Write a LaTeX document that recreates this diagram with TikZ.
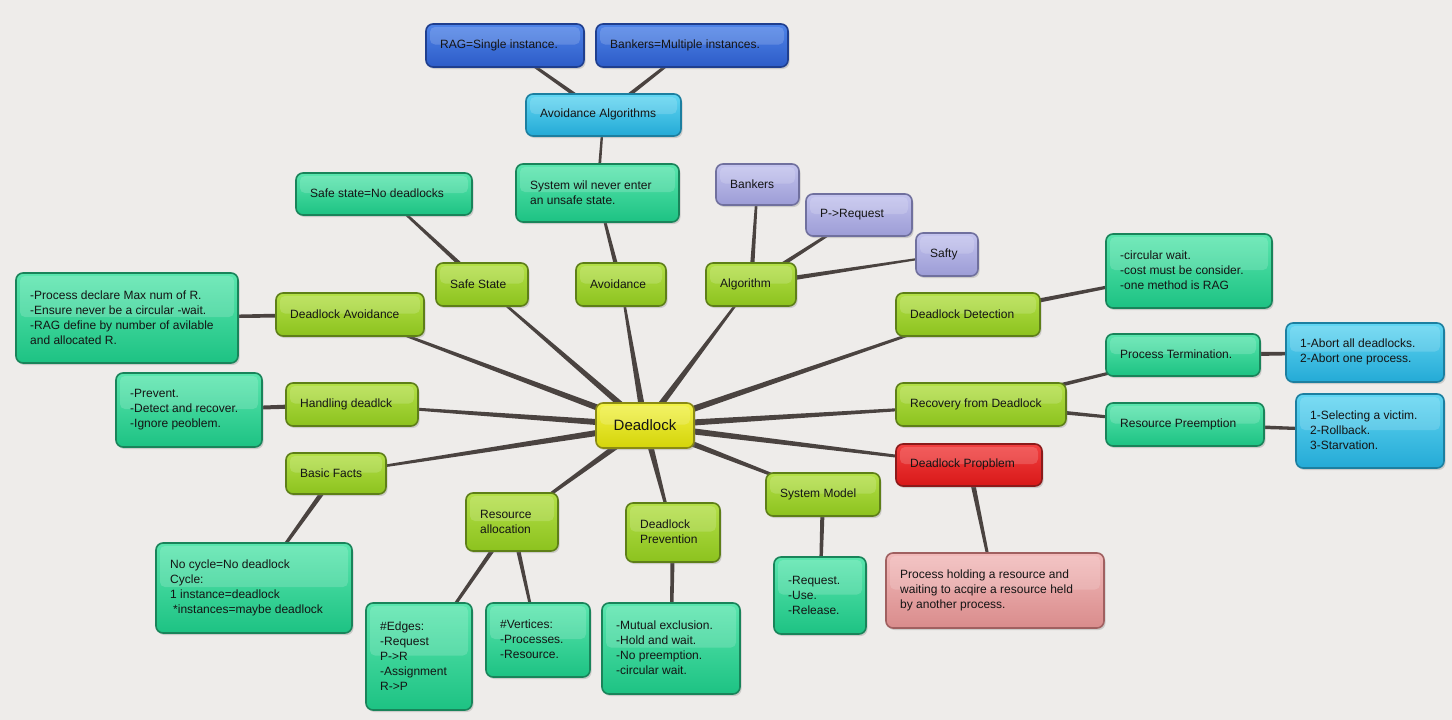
\documentclass[tikz,border=0pt]{standalone}
\usepackage{fontspec}
\setmainfont{Liberation Sans}
\usetikzlibrary{calc,shadows,backgrounds}
\definecolor{bgc}{HTML}{EEECEA}
\definecolor{connc}{HTML}{4A4340}
\definecolor{txtc}{HTML}{141414}
\definecolor{limT}{HTML}{B4E048}\definecolor{limB}{HTML}{8CC21E}\definecolor{limD}{HTML}{5E7F18}
\definecolor{teaT}{HTML}{5AE6AE}\definecolor{teaB}{HTML}{1DC283}\definecolor{teaD}{HTML}{19845A}
\definecolor{bluT}{HTML}{4F84E8}\definecolor{bluB}{HTML}{2D5CC8}\definecolor{bluD}{HTML}{1F3F8F}
\definecolor{cyaT}{HTML}{62D6F2}\definecolor{cyaB}{HTML}{24AAD6}\definecolor{cyaD}{HTML}{1C7FA0}
\definecolor{purT}{HTML}{C4C4EE}\definecolor{purB}{HTML}{9C9CD6}\definecolor{purD}{HTML}{70709E}
\definecolor{redT}{HTML}{F24040}\definecolor{redB}{HTML}{D81818}\definecolor{redD}{HTML}{8C1A1A}
\definecolor{pnkT}{HTML}{F2BABA}\definecolor{pnkB}{HTML}{D98C8C}\definecolor{pnkD}{HTML}{A06060}
\definecolor{yelT}{HTML}{F2F246}\definecolor{yelB}{HTML}{D4D40A}\definecolor{yelD}{HTML}{8A8A14}
\tikzset{
  bxs/.style={draw, rounded corners=7pt, line width=1.6pt, inner sep=0pt, outer sep=0pt,
    drop shadow={opacity=0.3, shadow xshift=1.5pt, shadow yshift=-2pt},
    path picture={\fill[white,opacity=0.16,rounded corners=5pt]
      ([xshift=4pt,yshift=-3pt]path picture bounding box.north west) rectangle
      ([xshift=-4pt,yshift=1pt]path picture bounding box.east);}},
  lim/.style={top color=limT, bottom color=limB, draw=limD},
  tea/.style={top color=teaT, bottom color=teaB, draw=teaD},
  blu/.style={top color=bluT, bottom color=bluB, draw=bluD},
  cya/.style={top color=cyaT, bottom color=cyaB, draw=cyaD},
  pur/.style={top color=purT, bottom color=purB, draw=purD},
  red/.style={top color=redT, bottom color=redB, draw=redD},
  pnk/.style={top color=pnkT, bottom color=pnkB, draw=pnkD},
  yel/.style={top color=yelT, bottom color=yelB, draw=yelD},
  txt/.style={font=\fontsize{12}{15}\selectfont, text=txtc, align=left, inner sep=0pt},
  conn/.style={fill=connc},
}
\newcommand\mybox[7]{%
  \node[bxs,#1,minimum width=#5pt,minimum height=#6pt] (#2) at (#3,#4) {};
  \node[txt,anchor=west] (#2-t) at ([xshift=14pt,yshift=0.5pt]#2.west) {#7};}
\newcommand\tlink[4]{%
  \fill[conn] ($(#1)!#3!90:(#2)$) -- ($(#2)!#4!-90:(#1)$) -- ($(#2)!#4!90:(#1)$) -- ($(#1)!#3!-90:(#2)$) -- cycle;}
\begin{document}
\begin{tikzpicture}[x=1pt,y=-1pt]
\useasboundingbox (0,0) rectangle (1452,720);
% centre
\node[bxs,yel,minimum width=98pt,minimum height=45pt] (dl) at (645,425.5) {};
\node[txt,font=\fontsize{15}{18}\selectfont] (dl-t) at (dl) {Deadlock};
% top
\mybox{blu}{rag}{505}{45.5}{158}{43}{RAG=Single instance.}
\mybox{blu}{bmi}{692}{45.5}{192}{43}{Bankers=Multiple instances.}
\mybox{cya}{aa}{603.5}{115}{155}{42}{Avoidance Algorithms}
\mybox{tea}{sys}{597.5}{193}{163}{58}{System wil never enter\\an unsafe state.}
\mybox{tea}{ssnd}{384}{194}{176}{42}{Safe state=No deadlocks}
\mybox{pur}{bank}{757.5}{184.5}{83}{41}{Bankers}
\mybox{pur}{preq}{859}{215}{106}{42}{P->Request}
\mybox{pur}{safty}{947}{254.5}{62}{43}{Safty}
\mybox{lim}{ss}{482}{284.5}{92}{43}{Safe State}
\mybox{lim}{av}{621}{284.5}{90}{43}{Avoidance}
\mybox{lim}{alg}{751}{284.5}{90}{43}{Algorithm}
% left
\mybox{lim}{da}{350}{314.5}{148}{43}{Deadlock Avoidance}
\mybox{tea}{dabox}{127}{318}{222}{90}{-Process declare Max num of R.\\-Ensure never be a circular -wait.\\-RAG define by number of avilable\\and allocated R.}
\mybox{lim}{hd}{352}{404.5}{132}{43}{Handling deadlck}
\mybox{tea}{hdbox}{189}{410}{146}{74}{-Prevent.\\-Detect and recover.\\-Ignore peoblem.}
\mybox{lim}{bf}{336}{473.5}{100}{41}{Basic Facts}
\mybox{tea}{bfbox}{254}{588}{196}{90}{No cycle=No deadlock\\Cycle:\\1 instance=deadlock\\\hspace*{3pt}*instances=maybe deadlock}
% right
\mybox{lim}{dd}{968}{314.5}{144}{43}{Deadlock Detection}
\mybox{tea}{ddbox}{1189}{271}{166}{74}{-circular wait.\\-cost must be consider.\\-one method is RAG}
\mybox{tea}{pt}{1183}{355}{154}{42}{Process Termination.}
\mybox{cya}{ptbox}{1365}{352.5}{158}{59}{1-Abort all deadlocks.\\2-Abort one process.}
\mybox{lim}{rec}{981}{404.5}{170}{43}{Recovery from Deadlock}
\mybox{tea}{rp}{1185}{424.5}{158}{43}{Resource Preemption}
\mybox{cya}{rpbox}{1370}{431}{148}{74}{1-Selecting a victim.\\2-Rollback.\\3-Starvation.}
\mybox{red}{dp}{969}{465}{146}{42}{Deadlock Propblem}
\mybox{pnk}{dpbox}{995}{590.5}{218}{75}{Process holding a resource and\\waiting to acqire a resource held\\by another process.}
% bottom
\mybox{lim}{sm}{823}{494.5}{114}{43}{System Model}
\mybox{tea}{smbox}{820}{595.5}{92}{77}{-Request.\\-Use.\\-Release.}
\mybox{lim}{prev}{673}{532.5}{94}{59}{Deadlock\\Prevention}
\mybox{tea}{prevbox}{671}{648.5}{138}{91}{-Mutual exclusion.\\-Hold and wait.\\-No preemption.\\-circular wait.}
\mybox{lim}{ra}{512}{522}{92}{58}{Resource\\allocation}
\mybox{tea}{edges}{419}{656.5}{106}{107}{\#Edges:\\-Request\\P->R\\-Assignment\\R->P}
\mybox{tea}{vert}{538}{640}{104}{74}{\#Vertices:\\-Processes.\\-Resource.}
% connectors
\begin{scope}[on background layer]
\fill[bgc] (0,0) rectangle (1452,720);
\foreach \c in {da,ss,av,alg,dd,rec,dp,sm,prev,ra,bf,hd}{\tlink{dl}{\c}{3.4pt}{0.9pt}}
\tlink{da}{dabox}{2.4pt}{1pt}
\tlink{ss}{ssnd}{2.4pt}{1pt}
\tlink{av}{sys}{2.4pt}{1pt}
\tlink{sys}{aa}{1.6pt}{1pt}
\tlink{aa}{rag}{2.2pt}{1.2pt}
\tlink{aa}{bmi}{2.2pt}{1.2pt}
\tlink{alg}{bank}{2.4pt}{1pt}
\tlink{alg}{preq}{2.4pt}{1pt}
\tlink{alg}{safty}{2.6pt}{0.8pt}
\tlink{dd}{ddbox}{2.6pt}{1pt}
\tlink{rec}{pt}{2.4pt}{1pt}
\tlink{rec}{rp}{2.4pt}{1pt}
\tlink{pt}{ptbox}{2.4pt}{1.4pt}
\tlink{rp}{rpbox}{2.2pt}{1.2pt}
\tlink{dp}{dpbox}{2.6pt}{1pt}
\tlink{sm}{smbox}{2.2pt}{1.4pt}
\tlink{prev}{prevbox}{2.2pt}{1.4pt}
\tlink{ra}{edges}{2.4pt}{1pt}
\tlink{ra}{vert}{2.4pt}{1pt}
\tlink{bf}{bfbox}{2.6pt}{1pt}
\tlink{hd}{hdbox}{2.4pt}{1.6pt}
\end{scope}
\end{tikzpicture}
\end{document}
